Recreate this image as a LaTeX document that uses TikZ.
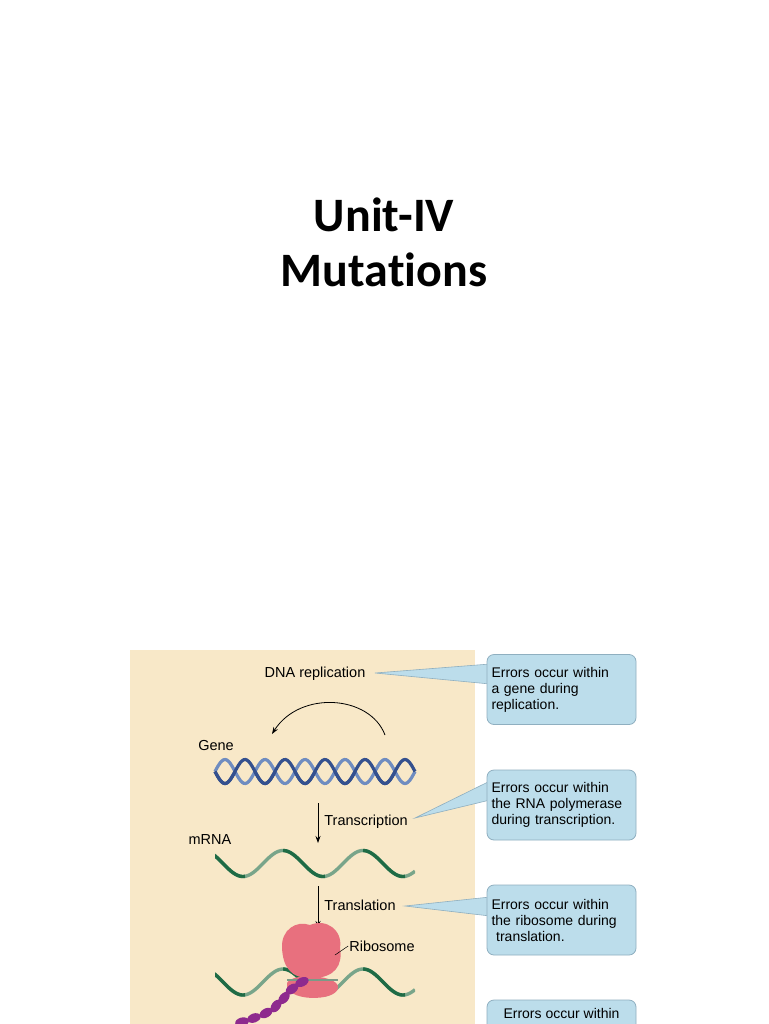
\documentclass[tikz,border=0pt]{standalone}
\usepackage{fontspec}
\setmainfont{Liberation Sans}
\newfontfamily\titlefont[Ligatures=NoCommon]{Carlito}
\usetikzlibrary{arrows.meta}
\definecolor{panel}{HTML}{F8E8C8}
\definecolor{callfill}{HTML}{BCDDEB}
\definecolor{calldraw}{HTML}{8FAFC0}
\definecolor{dnadark}{HTML}{34508E}
\definecolor{dnalight}{HTML}{6F8CC0}
\definecolor{rnadark}{HTML}{1F6B45}
\definecolor{rnalight}{HTML}{79A58A}
\definecolor{ribo}{HTML}{E8707E}
\definecolor{prot}{HTML}{8E2A8E}
\tikzset{
  lab/.style={font=\fontsize{14.5}{16}\selectfont, inner sep=1pt},
  callbox/.style={draw=calldraw, fill=callfill, rounded corners=7pt, line width=0.8pt,
     minimum width=149pt, minimum height=70pt, align=left, text width=140pt,
     font=\fontsize{14}{16}\selectfont},
  callptr/.style={fill=callfill, draw=calldraw, line width=0.6pt},
  arr/.style={-{Stealth[length=7pt,width=5pt]}, line width=0.8pt}
}
\begin{document}
\begin{tikzpicture}[x=1pt,y=-1pt]
\useasboundingbox (0,0) rectangle (768,1024);
\fill[white] (0,0) rectangle (768,1024);
\node (t1) at (384,215) {\titlefont\bfseries\fontsize{48}{52}\selectfont Unit-IV};
\node (t2) at (384,270) {\titlefont\bfseries\fontsize{48}{52}\selectfont Mutations};
\fill[panel] (130,650) rectangle (475,1024);
% callouts
\fill[callptr] (490,664) -- (375,673) -- (490,684) -- cycle;
\node[callbox] (b1) at (561.5,689.5) {Errors occur within\\a gene during\\replication.};
\fill[callptr] (490,781) -- (415,818) -- (490,800) -- cycle;
\node[callbox] (b2) at (561.5,805) {Errors occur within\\the RNA polymerase\\during transcription.};
\fill[callptr] (490,897) -- (405,906) -- (490,916) -- cycle;
\node[callbox] (b3) at (561.5,920) {Errors occur within\\the ribosome during\\\ translation.};
\node[callbox] (b4) at (561.5,1035) {};
\node[lab, font=\fontsize{14}{16}\selectfont] (b4t) at (561.5,1013) {Errors occur within};
% labels
\node[lab] (rep) at (315,674) {DNA replication};
\node[lab] (gene) at (216,746) {Gene};
\node[lab] (mrna) at (210,840) {mRNA};
\node[lab] (tsc) at (366,822) {Transcription};
\node[lab] (tsl) at (360,905) {Translation};
\node[lab] (ribl) at (382,946) {Ribosome};
% curved arrow
\coordinate (ca) at (385,735);
\coordinate (cb) at (272,734);
\draw[arr] (ca) .. controls (370,695) and (300,690) .. (cb);
% DNA helix
\foreach \c/\ph in {dnalight/180, dnadark/0}{
  \draw[\c, line width=3.2pt, domain=0:200, samples=120, variable=\t]
    plot ({215+\t},{771.5+12*sin(\t*9+\ph)});
}
\foreach \k in {0,...,4}{
  \draw[dnadark, line width=3.2pt, domain=0:20, samples=20, variable=\t]
    plot ({215+40*\k+\t},{771.5+12*sin(\t*9)});
}
% vertical arrows
\coordinate (a1s) at (318,803); \coordinate (a1e) at (318,843);
\draw[arr] (a1s) -- (a1e);
\coordinate (a2s) at (318,886); \coordinate (a2e) at (318,928);
\draw[arr] (a2s) -- (a2e);
% mRNA strands
\foreach \yy in {863.5, 982}{
  \begin{scope}
  \clip (215,\yy-20) rectangle (415,\yy+20);
  \draw[rnalight, line width=3.4pt, domain=215:415, samples=120, variable=\x]
    plot ({\x},{\yy+13*cos((\x-243)*4.5)});
  \foreach \k in {0,1,2}{
    \draw[rnadark, line width=3.4pt, domain=0:42, samples=30, variable=\t]
      plot ({203+80*\k+\t},{\yy+13*cos((203+80*\k+\t-243)*4.5)});
  }
  \end{scope}
}
% ribosome
\fill[ribo] (287,983) .. controls (284,1002) and (336,1002) .. (338,988)
  .. controls (340,975) and (292,972) .. (287,983) -- cycle;
\fill[ribo] (282,948) .. controls (281,930) and (296,920) .. (310,925)
  .. controls (326,918) and (343,930) .. (340,948)
  .. controls (343,965) and (335,978) .. (312,978)
  .. controls (290,979) and (283,966) .. (282,948) -- cycle;
\draw[rnalight!70!gray, line width=2.5pt] (287,980) -- (338,980);
\draw[black, line width=0.5pt] (335,955) -- (ribl.west);
% protein chain
\foreach \x/\y/\r in {302/982/25,292/989/35,284/998/50,276/1006/55,266/1013/30,254/1018/20,242/1022/15}{
  \fill[prot, rotate around={\r:(\x,\y)}] (\x,\y) ellipse (7pt and 4.5pt);
}
\end{tikzpicture}
\end{document}
